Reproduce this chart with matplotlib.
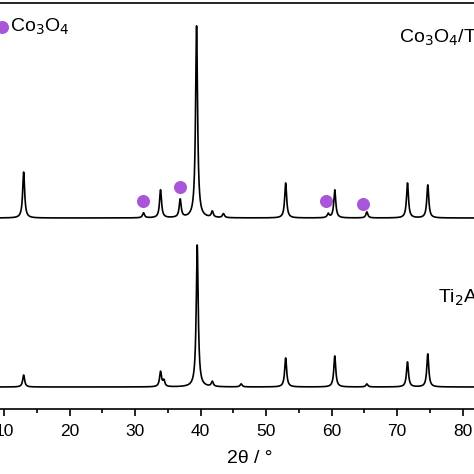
import numpy as np
import matplotlib.pyplot as plt

# peak positions (2theta) and heights (arb.)
top_pos = [13.0, 31.3, 33.9, 36.9, 39.4, 41.8, 43.5, 53.0, 59.5, 60.5, 65.4, 71.6, 74.7]
top_h = [46, 5, 28, 18, 192, 6, 4, 35, 4, 28, 6, 35, 33]
bot_pos = [13.0, 33.9, 34.4, 39.5, 41.8, 46.2, 53.0, 60.5, 65.4, 71.6, 74.7]
bot_h = [12, 15, 6, 142, 5, 3, 29, 31, 3, 25, 33]
top_base = 191
bot_base = 22
co_pos = [31.2, 36.9, 59.2, 64.8]
co_y = [208, 222, 208, 205]

x = np.linspace(5, 90, 6000)


def profile(pos, h, base, w=0.18):
    y = np.full_like(x, base, dtype=float)
    for p, a in zip(pos, h):
        y += a / (1 + ((x - p) / w) ** 2)
    return y


fig = plt.figure(figsize=(4.74, 4.74), dpi=100)
ax = fig.add_axes([-28.75 / 474, 65 / 474, 556.75 / 474, 406 / 474])
ax.plot(x, profile(top_pos, top_h, top_base), color='black', lw=1.2)
ax.plot(x, profile(bot_pos, bot_h, bot_base), color='black', lw=1.2)
ax.scatter(co_pos, co_y, s=70, color='#a855d8', zorder=3)

ax.scatter([9.7], [382], s=70, color='#a855d8', clip_on=False)
ax.text(10.9, 382, 'Co$_3$O$_4$', fontsize=14, va='center', family='Liberation Sans')
ax.text(70.3, 371, 'Co$_3$O$_4$/Ti$_2$AlC', fontsize=14, va='center', family='Liberation Sans')
ax.text(76.3, 111, 'Ti$_2$AlC', fontsize=14, va='center', family='Liberation Sans')

ax.set_xlim(5, 90)
ax.set_ylim(0, 406)
ax.set_yticks([])
ax.set_xticks(range(10, 90, 10))
ax.set_xticks(range(5, 90, 5), minor=True)
ax.tick_params(axis='x', which='major', length=5, width=1.2, labelsize=12.5, pad=6)
ax.tick_params(axis='x', which='minor', length=3, width=1.2)
for s in ax.spines.values():
    s.set_linewidth(1.2)
ax.set_xlabel('2θ / °', fontsize=14, labelpad=8, family='Liberation Sans')
for t in ax.get_xticklabels():
    t.set_family('Liberation Sans')

fig.savefig('out.png', dpi=100)
